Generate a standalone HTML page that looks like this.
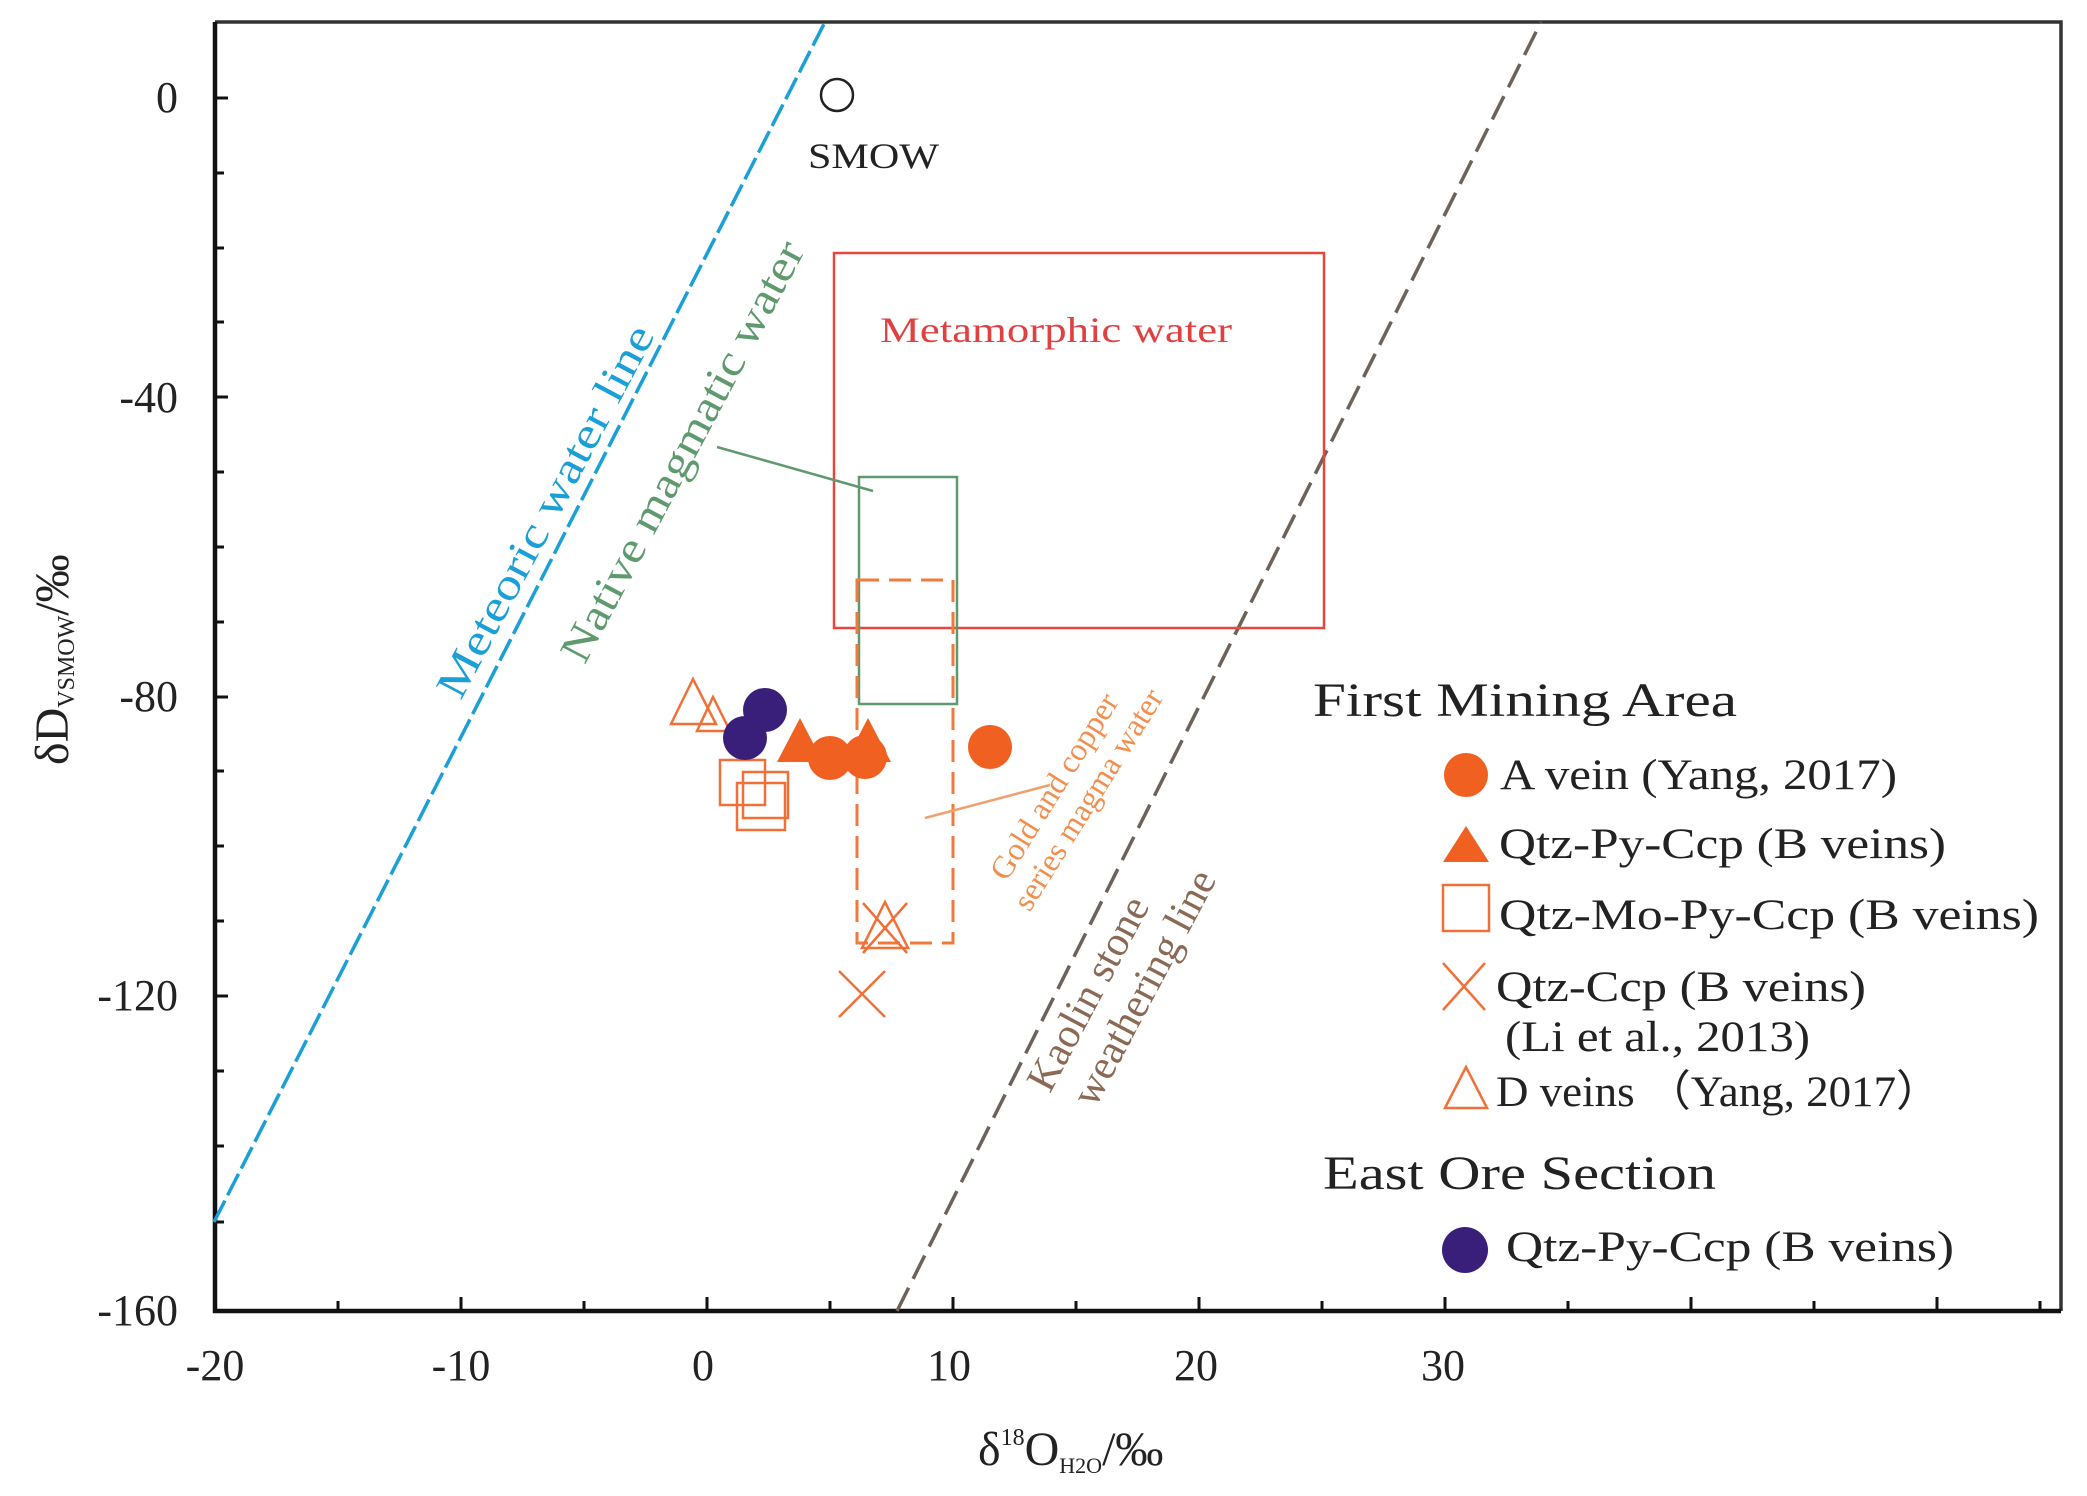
<!DOCTYPE html>
<html><head><meta charset="utf-8"><style>html,body{margin:0;padding:0;background:#fff}svg{display:block}</style></head>
<body>
<svg width="2087" height="1496" viewBox="0 0 2087 1496" xmlns="http://www.w3.org/2000/svg" font-family="Liberation Serif, serif">
<rect width="2087" height="1496" fill="#fff"/>
<path d="M215,22 H2061 V1311" fill="none" stroke="#333" stroke-width="3.5"/>
<path d="M215,22 V1311 H2061" fill="none" stroke="#111" stroke-width="4.5"/>
<g stroke="#111" stroke-width="3">
<path d="M215,98h13M215,173h9M215,248h9M215,322h9M215,397h13M215,472h9M215,547h9M215,622h9M215,697h13M215,771h9M215,846h9M215,921h9M215,996h13M215,1071h9M215,1146h9M215,1222h9"/>
<path d="M338,1311v-10M461,1311v-14M584,1311v-10M707,1311v-14M830,1311v-10M953,1311v-14M1076,1311v-10M1199,1311v-14M1322,1311v-10M1445,1311v-14M1568,1311v-10M1691,1311v-14M1814,1311v-10M1937,1311v-14M2040,1311v-10"/>
</g>
<g font-size="44" fill="#222" text-anchor="end">
<text x="178" y="112">0</text>
<text x="178" y="412">-40</text>
<text x="178" y="711">-80</text>
<text x="178" y="1010">-120</text>
<text x="178" y="1325">-160</text>
</g>
<g font-size="44" fill="#222" text-anchor="middle">
<text x="215" y="1380">-20</text>
<text x="461" y="1380">-10</text>
<text x="703" y="1380">0</text>
<text x="949" y="1380">10</text>
<text x="1196" y="1380">20</text>
<text x="1443" y="1380">30</text>
</g>
<text x="978" y="1465" font-size="48" fill="#222">δ<tspan font-size="24" dy="-20">18</tspan><tspan dy="20">O</tspan><tspan font-size="22" dy="8">H2O</tspan><tspan dy="-8">/‰</tspan></text>
<text transform="translate(68,765) rotate(-90)" font-size="48" fill="#222">δD<tspan font-size="24" dy="6">VSMOW</tspan><tspan dy="-6">/‰</tspan></text>
<line x1="214" y1="1222" x2="825" y2="22" stroke="#1a9fd6" stroke-width="3.5" stroke-dasharray="24,6"/>
<line x1="897" y1="1311" x2="1541" y2="22" stroke="#6e6258" stroke-width="3.5" stroke-dasharray="26,10"/>
<circle cx="837" cy="95" r="16" fill="none" stroke="#222" stroke-width="2.5"/>
<text x="808" y="168" font-size="36" fill="#222" textLength="131" lengthAdjust="spacingAndGlyphs">SMOW</text>
<rect x="834" y="253" width="490" height="375" fill="none" stroke="#e8463a" stroke-width="2.5"/>
<text x="880" y="342" font-size="36" fill="#e04040" textLength="352" lengthAdjust="spacingAndGlyphs">Metamorphic water</text>
<rect x="859" y="477" width="98" height="227" fill="none" stroke="#5f9a6e" stroke-width="2.5"/>
<line x1="717" y1="447" x2="873" y2="491" stroke="#5f9a6e" stroke-width="2.5"/>
<path d="M857,580 V943 H953 V580 Z" fill="none" stroke="#f07a3a" stroke-width="3" stroke-dasharray="22,10"/>
<line x1="925" y1="818" x2="1050" y2="785" stroke="#f0a070" stroke-width="2.5"/>
<text transform="translate(558,518) rotate(-62)" text-anchor="middle" font-size="44" fill="#1a9fd6" textLength="415" lengthAdjust="spacingAndGlyphs">Meteoric  water  line</text>
<text transform="translate(695,458) rotate(-62)" text-anchor="middle" font-size="44" fill="#5f9a6e" textLength="470" lengthAdjust="spacingAndGlyphs">Native magmatic water</text>
<text transform="translate(1063,792) rotate(-58)" text-anchor="middle" font-size="32" fill="#f09050">Gold and copper</text>
<text transform="translate(1097,805) rotate(-58)" text-anchor="middle" font-size="32" fill="#f09050">series magma water</text>
<text transform="translate(1100,1000) rotate(-62)" text-anchor="middle" font-size="42" fill="#8a6a55">Kaolin stone</text>
<text transform="translate(1156,994) rotate(-62)" text-anchor="middle" font-size="42" fill="#8a6a55">weathering line</text>
<g fill="none" stroke="#f07038" stroke-width="2.5">
<polygon points="693,679 671,724 716,724"/>
<polygon points="713,697 697,731 730,731"/>
<polygon points="885,902 862,948 908,948"/>
<rect x="720" y="760" width="45" height="45"/>
<rect x="737" y="783" width="48" height="47"/>
<rect x="743" y="772" width="45" height="46"/>
<path d="M863,903L907,953M907,903L863,953M839,971L885,1017M885,971L839,1017"/>
</g>
<g fill="#f06020">
<polygon points="800,718 777,762 823,762"/>
<polygon points="868,718 845,762 891,762"/>
<circle cx="830" cy="758" r="22"/>
<circle cx="865" cy="757" r="22"/>
<circle cx="990" cy="747" r="22"/>
</g>
<g fill="#3a1f7a">
<circle cx="765" cy="710" r="22"/>
<circle cx="745" cy="738" r="22"/>
</g>
<text x="1313" y="716" font-size="48" fill="#222" textLength="424" lengthAdjust="spacingAndGlyphs">First Mining Area</text>
<circle cx="1466" cy="775" r="22" fill="#f06020"/>
<polygon points="1466,826 1443,862 1489,862" fill="#f06020"/>
<rect x="1443" y="885" width="46" height="46" fill="none" stroke="#f07038" stroke-width="2.5"/>
<path d="M1443,963L1485,1010M1485,963L1443,1010" stroke="#f07038" stroke-width="2.5"/>
<polygon points="1466,1067 1445,1108 1487,1108" fill="none" stroke="#f07038" stroke-width="2.5"/>
<g font-size="43" fill="#222">
<text x="1500" y="789" textLength="397" lengthAdjust="spacingAndGlyphs">A vein (Yang, 2017)</text>
<text x="1499" y="858" textLength="447" lengthAdjust="spacingAndGlyphs">Qtz-Py-Ccp (B veins)</text>
<text x="1499" y="929" textLength="540" lengthAdjust="spacingAndGlyphs">Qtz-Mo-Py-Ccp (B veins)</text>
<text x="1496" y="1001" textLength="370" lengthAdjust="spacingAndGlyphs">Qtz-Ccp (B veins)</text>
<text x="1505" y="1051" textLength="305" lengthAdjust="spacingAndGlyphs">(Li et al., 2013)</text>
<text x="1496" y="1106" textLength="445" lengthAdjust="spacingAndGlyphs">D veins （Yang, 2017）</text>
</g>
<text x="1323" y="1189" font-size="48" fill="#222" textLength="393" lengthAdjust="spacingAndGlyphs">East Ore Section</text>
<circle cx="1465" cy="1250" r="23" fill="#3a1f7a"/>
<text x="1506" y="1261" font-size="43" fill="#222" textLength="448" lengthAdjust="spacingAndGlyphs">Qtz-Py-Ccp (B veins)</text>
</svg>
</body></html>
